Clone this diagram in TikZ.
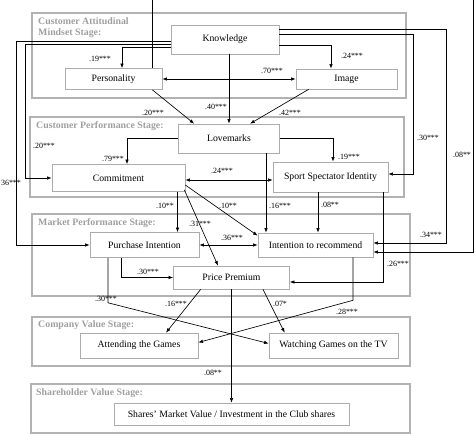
\documentclass[tikz,border=0pt]{standalone}
\usepackage{fontspec}
\setmainfont{Liberation Serif}
\usetikzlibrary{calc,arrows.meta}
\begin{document}
\begin{tikzpicture}[x=0.03cm, y=-0.03cm,
    stagebox/.style={draw=gray!60, line width=0.9pt},
    stagetitle/.style={anchor=north west, align=left, text=gray!75, inner sep=0pt,
      font=\fontsize{8.4}{10}\selectfont\bfseries},
    box/.style 2 args={draw=gray!65, line width=0.5pt, fill=white,
      minimum width=#1*0.03cm, minimum height=#2*0.03cm, inner sep=0pt,
      font=\fontsize{8.3}{10}\selectfont},
    lbl/.style={inner sep=0pt, font=\fontsize{6.8}{8}\selectfont},
    arr/.style={line width=0.55pt, -{Latex[length=4pt, width=3pt]}},
    arrr/.style={line width=0.55pt, {Latex[length=4pt, width=3pt]}-{Latex[length=4pt, width=3pt]}}]
  \useasboundingbox (0,0) rectangle (474,435);
  % Stage frames
  \draw[stagebox] (32,13) rectangle (406,98);
  \draw[stagebox] (30,117) rectangle (404,197);
  \draw[stagebox] (32,214) rectangle (410,296);
  \draw[stagebox] (32,317) rectangle (410,366);
  \draw[stagebox] (31,384) rectangle (410,433);
  % Stage titles
  \node[stagetitle] (t1) at (38,17) {Customer Attitudinal\\Mindset Stage:};
  \node[stagetitle] (t2) at (36,121) {Customer Performance Stage:};
  \node[stagetitle] (t3) at (38,218) {Market Performance Stage:};
  \node[stagetitle] (t4) at (38,320) {Company Value Stage:};
  \node[stagetitle] (t5) at (36,388) {Shareholder Value Stage:};
  % Constructs
  \node[box={108}{29}] (knowledge) at (225,39.5) {Knowledge};
  \node[box={97}{21}] (personality) at (113.5,79) {Personality};
  \node[box={101}{20}] (image) at (346.5,79) {Image};
  \node[box={101}{29}] (lovemarks) at (229,138.5) {Lovemarks};
  \node[box={133}{27}] (commitment) at (118.5,178) {Commitment};
  \node[box={115}{30}] (ssi) at (330.5,177) {Sport Spectator Identity};
  \node[box={109}{25}] (pi) at (144.5,245) {Purchase Intention};
  \node[box={115}{24}] (itr) at (315.5,245) {Intention to recommend};
  \node[box={116}{23}] (pp) at (231.5,277.5) {Price Premium};
  \node[box={118}{25}] (attend) at (139,345.5) {Attending the Games};
  \node[box={129}{25}] (watch) at (333.5,345.5) {Watching Games on the TV};
  \node[box={235}{22}] (shares) at (231.5,414) {Shares' Market Value / Investment in the Club shares};
  % Attitudinal paths
  \draw[arr] ($(knowledge.west)+(0,8)$) -| ($(personality.north)+(8.5,0)$);
  \draw[arr] ($(knowledge.east)+(0,6)$) -| ($(image.north)+(-15.5,0)$);
  \draw[arrr] (personality.east) -- (image.west);
  \draw[arr] (knowledge.south -| lovemarks.north) -- (lovemarks.north);
  \draw[arr] ($(personality.south east)+(-10,0)$) -- ($(lovemarks.north west)+(16,0)$);
  \draw[arr] ($(image.south west)+(13,0)$) -- ($(lovemarks.north)+(21,0)$);
  % Performance paths
  \draw[arr] (lovemarks.west) -| ($(commitment.north)+(8.5,0)$);
  \draw[arr] (lovemarks.east) -| ($(ssi.north)+(2.5,0)$);
  \draw[arrr] ($(commitment.east)+(0,2)$) -- ($(ssi.west)+(0,3)$);
  \draw[arr] ($(knowledge.east)+(0,-5.5)$) -| ($(ssi.east)+(25,-3)$) -- ($(ssi.east)+(0,-3)$);
  \draw[arr] ($(knowledge.east)+(0,-10.5)$) -| ($(itr.east)+(73.5,-2)$) -- ($(itr.east)+(0,-2)$);
  \draw[arr] ($(personality.north)+(38.5,0)$) -- ++(0,-80) -| ($(itr.east)+(100,7)$) -- ($(itr.east)+(0,7)$);
  \draw[arr] ($(knowledge.west)+(0,4.5)$) -| ($(commitment.west)+(-26,0)$) -- (commitment.west);
  \draw[arr] ($(knowledge.west)+(0,1.5)$) -| ($(pi.west)+(-73,0)$) -- (pi.west);
  % Market paths
  \draw[arr] ($(commitment.south)+(59,0)$) -- ($(pi.north)+(33,0)$);
  \draw[arr] ($(commitment.south east)+(-1,-2)$) -- ($(pp.north)+(-13.5,0)$);
  \draw[arr] ($(commitment.east)+(0,7)$) -- ($(itr.north west)+(0,3)$);
  \draw[arr] ($(lovemarks.south)+(37,0)$) -- ($(itr.north)+(-49.5,0)$);
  \draw[arr] ($(ssi.south)+(-12.5,0)$) -- ($(itr.north)+(2.5,0)$);
  \draw[arr] ($(ssi.south)+(52.5,0)$) |- ($(pp.east)+(0,4.5)$);
  \draw[arrr] (pi.east) -- (itr.west);
  \draw[arr] ($(pi.south)+(-23.5,0)$) |- (pp.west);
  % Company and shareholder paths
  \draw[arr] ($(pi.south)+(-36.5,0)$) -- ++(0,45) -- ($(watch.west)+(0,-2)$);
  \draw[arr] ($(pp.south west)+(27.5,0)$) -- ($(attend.north)+(27,0)$);
  \draw[arr] ($(pp.south)+(31.5,0)$) -- ($(watch.north west)+(16,0)$);
  \draw[arr] ($(itr.south)+(37.5,0)$) -- ++(0,43) -- ($(attend.east)+(0,-3)$);
  \draw[arr] (pp.south) -- (shares.north);
  % Coefficients
  \node[lbl] (c1) at (100,59) {.19***};
  \node[lbl] (c2) at (352,56) {.24***};
  \node[lbl] (c3) at (272,71) {.70***};
  \node[lbl] (c4) at (216,107) {.40***};
  \node[lbl] (c5) at (153,113) {.20***};
  \node[lbl] (c6) at (290,113) {.42***};
  \node[lbl] (c7) at (113,159) {.79***};
  \node[lbl] (c8) at (349,157) {.19***};
  \node[lbl] (c9) at (222,171) {.24***};
  \node[lbl] (c10) at (428,138) {.30***};
  \node[lbl] (c11) at (431,235) {.34***};
  \node[lbl] (c12) at (462,155) {.08**};
  \node[lbl] (c13) at (44,146) {.20***};
  \node[lbl] (c14) at (11,183) {36***};
  \node[lbl] (c15) at (165,206) {.10**};
  \node[lbl] (c16) at (200,224) {.31***};
  \node[lbl] (c17) at (228,206) {.10**};
  \node[lbl] (c18) at (280,206) {.16***};
  \node[lbl] (c19) at (330,205) {.08**};
  \node[lbl] (c20) at (398,264) {.26***};
  \node[lbl] (c21) at (232,238) {.36***};
  \node[lbl] (c22) at (148,272) {.30***};
  \node[lbl] (c23) at (106,299) {.30***};
  \node[lbl] (c24) at (176,304) {.16***};
  \node[lbl] (c25) at (280,304) {.07*};
  \node[lbl] (c26) at (347,312) {.28***};
  \node[lbl] (c27) at (213,373) {.08**};
\end{tikzpicture}
\end{document}
